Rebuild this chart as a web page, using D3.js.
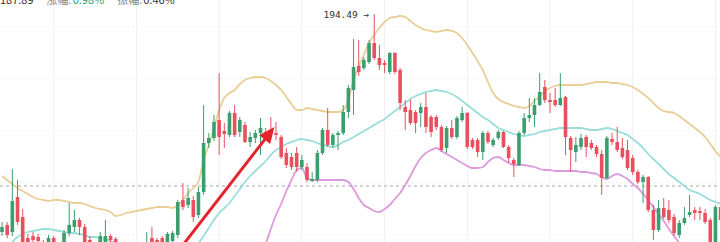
<!DOCTYPE html>
<html>
<head>
<meta charset="utf-8">
<script src="https://cdn.jsdelivr.net/npm/d3@7"></script>
<style>
  body { margin: 0; background: #fff; }
  svg { display: block; }
</style>
</head>
<body>
<svg width="720" height="242"></svg>
<script>
// daily candles (oldest on the left)
var opens = [
  172.7, 173.4, 172.7, 176.2, 174.2, 172.1, 172.3, 172.2, 171.5, 171.7,
  172.1, 171.4, 171.1, 172.6, 173.2, 173.9, 173.2, 171.9, 171.1, 171.7,
  171.4, 172.3, 172.0, 171.3, 170.9, 170.7, 170.9, 171.2, 171.3, 172.1,
  171.9, 172.1, 171.7, 171.8, 172.4, 175.9, 175.4, 175.9, 174.4, 176.7,
  181.6, 182.1, 183.9, 182.8, 182.4, 184.6, 182.7, 183.4, 181.7, 182.1,
  182.6, 182.7, 182.8, 182.6, 182.2, 180.6, 180.2, 180.6, 179.2, 179.2,
  177.8, 177.9, 180.6, 182.9, 181.4, 182.4, 182.6, 184.7, 186.9, 189.3,
  189.1, 189.7, 191.6, 190.1, 189.6, 188.7, 190.6, 188.9, 185.2, 184.9,
  184.7, 184.6, 185.2, 184.2, 184.2, 183.2, 181.1, 183.1, 182.2, 183.9,
  184.6, 181.9, 181.9, 180.7, 182.6, 181.4, 182.1, 182.7, 181.2, 179.9,
  179.4, 182.6, 184.1, 184.4, 185.4, 187.2, 185.9, 185.9, 185.4, 186.2,
  182.1, 180.7, 181.2, 182.2, 181.6, 181.2, 180.5, 178.1, 182.0, 181.7,
  181.1, 180.9, 180.1, 178.7, 177.7, 178.2, 174.9, 172.9, 175.1, 174.9,
  174.2, 172.4, 173.6, 174.4, 174.9, 174.8, 174.6, 173.9, 171.7, 175.2
];
var highs = [
  173.7, 173.7, 179.0, 177.9, 175.0, 172.5, 172.7, 172.5, 171.9, 172.4,
  172.3, 171.6, 172.9, 175.6, 174.9, 174.1, 173.5, 172.3, 171.4, 172.7,
  173.9, 172.5, 172.2, 171.6, 171.2, 171.4, 171.6, 171.5, 172.7, 173.2,
  172.1, 172.3, 172.7, 172.8, 175.9, 177.6, 177.1, 176.3, 177.2, 185.4,
  182.6, 184.4, 188.6, 183.6, 184.8, 185.4, 184.2, 183.7, 182.7, 182.9,
  184.1, 183.1, 184.2, 183.7, 182.4, 181.1, 180.6, 181.2, 180.4, 179.6,
  178.7, 180.9, 183.1, 185.1, 182.6, 182.8, 185.4, 187.4, 192.0, 191.9,
  190.2, 191.9, 194.49, 191.4, 189.9, 190.7, 190.7, 189.1, 185.9, 185.9,
  184.9, 185.6, 186.6, 184.4, 184.4, 183.4, 183.3, 183.9, 184.3, 185.2,
  184.7, 182.1, 182.1, 182.8, 182.8, 182.1, 182.9, 182.8, 181.4, 180.1,
  182.8, 184.6, 186.1, 186.1, 188.6, 187.9, 186.6, 187.1, 188.6, 186.3,
  182.3, 182.2, 182.5, 182.4, 181.9, 181.4, 180.9, 182.3, 182.6, 183.2,
  182.1, 181.9, 180.4, 178.9, 178.4, 178.3, 175.4, 175.9, 176.1, 175.9,
  174.5, 173.9, 175.2, 176.4, 175.2, 175.2, 175.0, 174.1, 175.4, 175.4
];
var lows = [
  172.3, 172.1, 172.3, 173.4, 171.1, 170.9, 171.5, 171.3, 170.7, 171.4,
  171.3, 170.6, 170.9, 172.3, 172.7, 172.4, 171.3, 170.5, 170.3, 171.4,
  171.1, 171.5, 171.2, 170.5, 170.1, 170.3, 170.6, 170.6, 171.1, 171.1,
  171.1, 171.3, 171.3, 171.5, 172.1, 174.9, 175.1, 173.7, 174.1, 176.4,
  181.1, 181.8, 180.4, 181.1, 182.2, 182.2, 182.2, 181.6, 181.2, 181.6,
  180.4, 181.9, 182.2, 181.9, 180.0, 179.1, 178.9, 178.7, 178.9, 177.7,
  177.7, 177.7, 180.4, 181.2, 181.1, 180.9, 182.4, 184.1, 184.4, 188.3,
  188.9, 189.5, 189.9, 188.9, 188.6, 188.5, 188.5, 184.9, 182.9, 183.4,
  182.6, 183.2, 182.6, 182.2, 182.9, 180.7, 180.6, 182.0, 182.0, 183.7,
  181.0, 181.0, 180.2, 179.9, 181.5, 181.2, 181.9, 181.1, 179.6, 178.2,
  179.3, 182.4, 183.7, 183.2, 185.3, 185.6, 184.6, 185.2, 185.3, 180.4,
  178.7, 179.7, 180.9, 180.2, 180.9, 180.2, 176.4, 178.0, 181.4, 180.7,
  180.0, 178.9, 178.4, 177.5, 175.6, 174.7, 171.9, 172.7, 174.0, 173.6,
  172.3, 172.1, 173.4, 174.2, 173.9, 173.9, 173.5, 171.3, 171.5, 173.7
];
var closes = [
  173.2, 172.4, 175.8, 173.7, 171.4, 171.3, 171.9, 171.8, 171.1, 172.1,
  171.7, 170.9, 172.6, 173.4, 173.9, 173.2, 171.7, 170.9, 170.7, 172.3,
  172.3, 171.9, 171.6, 170.9, 170.5, 171.1, 171.3, 170.9, 171.7, 171.3,
  171.5, 171.7, 172.5, 172.6, 175.7, 175.2, 176.1, 174.2, 176.7, 181.6,
  182.1, 183.7, 182.2, 182.5, 184.6, 182.4, 183.9, 181.7, 182.2, 182.6,
  183.1, 182.3, 182.6, 182.4, 180.2, 179.4, 179.2, 179.2, 179.9, 177.9,
  178.0, 180.6, 182.9, 181.4, 182.4, 182.6, 184.7, 187.1, 189.2, 188.7,
  189.9, 191.6, 190.1, 189.4, 189.4, 190.6, 188.7, 185.6, 184.7, 183.6,
  183.6, 185.2, 183.2, 182.7, 183.2, 180.9, 183.1, 182.2, 184.1, 184.6,
  181.2, 181.2, 180.7, 182.6, 181.7, 181.9, 182.7, 181.2, 180.1, 179.5,
  182.6, 184.1, 184.4, 185.4, 186.7, 185.9, 185.7, 185.4, 186.1, 182.2,
  180.9, 181.4, 182.1, 181.2, 181.1, 180.5, 178.1, 182.1, 181.7, 180.9,
  180.2, 179.1, 178.7, 177.7, 178.2, 174.9, 172.9, 175.1, 174.2, 173.9,
  172.6, 173.6, 174.1, 174.7, 174.6, 174.6, 173.7, 171.7, 175.2, 173.9
];

// bollinger bands
var upperBand = [
  178.3, 177.9, 177.5, 177.1, 176.8, 176.5, 176.2, 176.0, 175.9, 175.8,
  175.9, 175.9, 175.8, 175.7, 175.6, 175.6, 175.5, 175.3, 175.1, 175.0,
  174.9, 174.7, 174.3, 174.4, 174.6, 174.7, 174.8, 174.9, 175.0, 175.1,
  175.2, 175.2, 175.2, 175.1, 175.4, 175.9, 176.6, 177.1, 177.7, 179.9,
  181.4, 183.1, 184.9, 186.1, 186.6, 186.9, 187.5, 187.9, 188.1, 188.2,
  188.2, 188.1, 187.8, 187.4, 186.9, 186.2, 185.5, 184.9, 184.9, 185.1,
  185.0, 184.9, 184.8, 184.7, 184.7, 184.7, 184.9, 185.9, 187.9, 189.2,
  190.4, 191.6, 192.4, 193.1, 193.7, 194.1, 194.2, 194.3, 194.2, 193.8,
  193.4, 193.1, 192.9, 192.8, 192.7, 192.8, 192.9, 192.8, 192.6, 192.1,
  191.4, 190.6, 189.8, 188.9, 187.7, 186.6, 186.0, 185.7, 185.5, 185.3,
  185.2, 185.1, 185.3, 185.8, 186.3, 186.8, 187.1, 187.3, 187.4, 187.4,
  187.4, 187.4, 187.4, 187.5, 187.6, 187.7, 187.7, 187.7, 187.6, 187.6,
  187.5, 187.4, 187.2, 186.9, 186.5, 186.1, 185.6, 185.1, 184.8, 184.7,
  184.6, 184.3, 183.9, 183.5, 183.1, 182.7, 182.2, 181.5, 180.8, 180.2
];
var middleBand = [
  170.9, 171.3, 171.7, 172.2, 172.5, 172.7, 172.8, 172.9, 173.0, 173.0,
  172.9, 172.8, 172.7, 172.6, 172.6, 172.5, 172.4, 172.2, 172.2, 172.1,
  172.0, 171.8, 171.6, 171.4, 171.2, 171.0, 170.9, 170.8, 170.7, 170.7,
  170.7, 170.7, 170.7, 170.8, 170.9, 171.0, 171.1, 171.3, 171.6, 172.3,
  173.1, 173.9, 174.6, 175.1, 175.6, 176.3, 177.0, 177.7, 178.3, 178.8,
  179.3, 179.8, 180.4, 180.9, 181.2, 181.5, 181.7, 181.9, 182.0, 181.9,
  181.8, 181.6, 181.4, 181.3, 181.2, 181.4, 181.7, 181.9, 182.2, 182.5,
  182.8, 183.1, 183.4, 183.7, 184.0, 184.4, 184.8, 185.2, 185.6, 186.0,
  186.3, 186.5, 186.7, 186.8, 186.9, 186.8, 186.7, 186.5, 186.2, 185.8,
  185.4, 185.0, 184.6, 184.2, 183.9, 183.5, 183.1, 182.9, 182.7, 182.5,
  182.4, 182.3, 182.4, 182.5, 182.7, 182.8, 182.9, 183.0, 183.1, 183.1,
  183.1, 183.1, 183.1, 183.0, 182.9, 182.9, 183.0, 183.1, 183.0, 182.8,
  182.6, 182.4, 182.0, 181.6, 181.1, 180.5, 180.0, 179.5, 179.0, 178.5,
  178.1, 177.7, 177.3, 176.9, 176.7, 176.5, 176.2, 175.9, 175.7, 175.5
];
var lowerBand = [
  163.5, 164.7, 165.9, 167.3, 168.2, 168.9, 169.4, 169.8, 170.1, 170.2,
  169.9, 169.7, 169.6, 169.5, 169.6, 169.4, 169.3, 169.1, 169.3, 169.2,
  169.1, 168.9, 168.9, 168.4, 167.8, 167.3, 167.0, 166.7, 166.4, 166.3,
  166.2, 166.2, 166.2, 166.5, 166.4, 166.1, 165.6, 165.5, 165.5, 164.7,
  164.8, 164.7, 164.3, 164.1, 164.6, 165.7, 166.5, 167.5, 168.5, 169.4,
  170.4, 171.5, 173.0, 174.4, 175.5, 176.8, 177.9, 178.9, 179.1, 178.1,
  177.9, 177.9, 177.9, 177.9, 177.9, 177.9, 177.9, 177.7, 177.0, 176.1,
  175.4, 175.1, 174.8, 174.7, 175.0, 175.4, 176.0, 176.6, 177.4, 178.3,
  179.3, 180.1, 180.6, 180.9, 181.1, 180.8, 180.5, 180.2, 179.9, 179.6,
  179.3, 179.1, 179.1, 179.2, 179.7, 180.1, 180.2, 179.9, 179.6, 179.4,
  179.4, 179.4, 179.3, 179.2, 179.0, 178.9, 178.9, 178.8, 178.8, 178.8,
  178.8, 178.8, 178.7, 178.7, 178.6, 178.5, 178.2, 178.0, 178.3, 178.5,
  178.3, 178.0, 177.5, 177.1, 176.5, 175.9, 175.2, 174.5, 173.8, 173.0,
  172.3, 171.6, 170.9, 170.3, 169.9, 169.6, 169.4, 169.1, 168.9, 168.7
];

var markPrice = 177.3;                       // dashed reference line
var gridPrices = [193.3, 188.1, 182.9, 177.7, 172.5];
var gridIdx = [10, 26, 42, 58, 74, 90, 106, 122, 138];
var arrowFrom = [35, 171.4], arrowTo = [52.7, 183.2];
// header pieces: text, colour, gap before it
var header = [
  { text: "187.89", color: "#333", gap: 0 },
  { text: "涨幅:", color: "#888", gap: 13 },
  { text: "0.98%", color: "#26a17b", gap: 1 },
  { text: "振幅:", color: "#888", gap: 13 },
  { text: "0.46%", color: "#333", gap: 1 }
];

var upColor = "#3a9e6e", downColor = "#e9505e";
var W = 720, H = 242;
var svg = d3.select("svg");

var x = d3.scaleLinear().domain([0, opens.length - 1]).range([2, 720.6]);
var y = d3.scaleLinear().domain([171.7, 195.9]).range([H, 0]);
var bodyW = 3.6;

// faint grid
svg.selectAll("line.vgrid").data(gridIdx).enter().append("line")
  .attr("x1", function(d){ return x(d) }).attr("x2", function(d){ return x(d) })
  .attr("y1", 0).attr("y2", H)
  .attr("stroke", "#f0f0f0").attr("stroke-width", 1);

svg.selectAll("line.hgrid").data(gridPrices).enter().append("line")
  .attr("x1", 0).attr("x2", W)
  .attr("y1", function(d){ return Math.round(y(d)) + 0.5 })
  .attr("y2", function(d){ return Math.round(y(d)) + 0.5 })
  .attr("stroke", "#f2f2f2").attr("stroke-dasharray", "2,2");

// dashed price line
svg.append("line")
  .attr("x1", 0).attr("x2", W)
  .attr("y1", y(markPrice)).attr("y2", y(markPrice))
  .attr("stroke", "#c4c4c4").attr("stroke-width", 1.5)
  .attr("stroke-dasharray", "3,3");

// bands
var bandLine = d3.line()
  .x(function(d, i){ return x(i) })
  .y(function(d){ return y(d) })
  .curve(d3.curveMonotoneX);

[[upperBand, "#e8c98c"], [middleBand, "#8dd9d6"], [lowerBand, "#d98fdc"]].forEach(function(b){
  svg.append("path")
    .attr("d", bandLine(b[0]))
    .attr("fill", "none")
    .attr("stroke", b[1])
    .attr("stroke-width", 1.8)
    .attr("stroke-opacity", 0.9);
});

// candles
var candles = svg.selectAll("g.candle").data(d3.range(opens.length)).enter().append("g");

candles.append("line")
  .attr("x1", function(i){ return x(i) }).attr("x2", function(i){ return x(i) })
  .attr("y1", function(i){ return y(highs[i]) })
  .attr("y2", function(i){ return y(lows[i]) })
  .attr("stroke", function(i){ return closes[i] >= opens[i] ? upColor : downColor })
  .attr("stroke-width", 1);

candles.append("rect")
  .attr("x", function(i){ return x(i) - bodyW / 2 })
  .attr("width", bodyW)
  .attr("y", function(i){ return y(Math.max(opens[i], closes[i])) })
  .attr("height", function(i){ return Math.max(1, Math.abs(y(opens[i]) - y(closes[i]))) })
  .attr("fill", function(i){ return closes[i] >= opens[i] ? upColor : downColor });

// red arrow
var x0 = x(arrowFrom[0]), y0 = y(arrowFrom[1]);
var x1 = x(arrowTo[0]), y1 = y(arrowTo[1]);
var ang = Math.atan2(y1 - y0, x1 - x0);
var headL = 16, headW = 7;
var bx = x1 - headL * Math.cos(ang), by = y1 - headL * Math.sin(ang);
svg.append("line")
  .attr("x1", x0).attr("y1", y0).attr("x2", bx + 2 * Math.cos(ang)).attr("y2", by + 2 * Math.sin(ang))
  .attr("stroke", "#e3242b").attr("stroke-width", 3);
svg.append("path")
  .attr("d", "M" + x1 + "," + y1 +
    "L" + (bx + headW * Math.sin(ang)) + "," + (by - headW * Math.cos(ang)) +
    "L" + (bx - headW * Math.sin(ang)) + "," + (by + headW * Math.cos(ang)) + "Z")
  .attr("fill", "#e3242b");

// max label
var maxI = d3.maxIndex(highs);
svg.append("text")
  .attr("x", x(maxI) - 5)
  .attr("y", y(highs[maxI]) + 3.5)
  .attr("text-anchor", "end")
  .attr("font-family", "DejaVu Sans Mono, monospace")
  .attr("font-size", 9.5)
  .attr("fill", "#333")
  .text(highs[maxI].toFixed(2) + " →");

// header line, scrolled partly out of view at the top as in the picture
svg.append("text")
  .attr("x", 0)
  .attr("y", 3.5)
  .attr("font-family", "Noto Sans CJK SC, sans-serif")
  .attr("font-size", 11)
  .selectAll("tspan").data(header).enter().append("tspan")
  .attr("dx", function(d){ return d.gap })
  .attr("fill", function(d){ return d.color })
  .text(function(d){ return d.text });
</script>
</body>
</html>
